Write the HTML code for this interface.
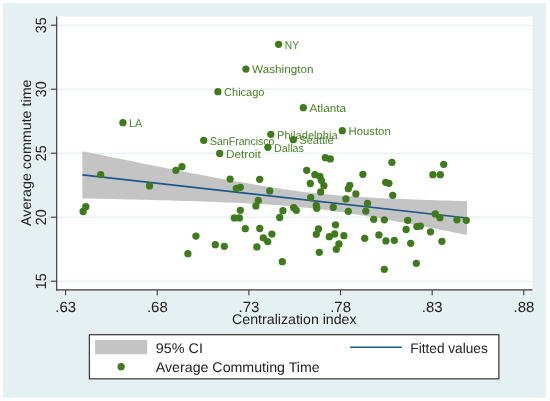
<!DOCTYPE html>
<html><head><meta charset="utf-8"><title>Average commute time vs Centralization index</title>
<style>html,body{margin:0;padding:0;background:#fff}svg{display:block}</style></head>
<body>
<svg width="550" height="401" viewBox="0 0 550 401" style="display:block" text-rendering="geometricPrecision" font-family='"Liberation Sans", sans-serif'>
<rect x="0" y="0" width="550" height="401" fill="#ffffff"/>
<rect x="3" y="3" width="543" height="394.5" fill="#e4f0f2"/>
<rect x="56.7" y="16.5" width="475.7" height="273.45" fill="#ffffff"/>
<line x1="56.7" x2="532.4" y1="281.20" y2="281.20" stroke="#dbedf0" stroke-width="1"/>
<line x1="56.7" x2="532.4" y1="217.20" y2="217.20" stroke="#dbedf0" stroke-width="1"/>
<line x1="56.7" x2="532.4" y1="153.20" y2="153.20" stroke="#dbedf0" stroke-width="1"/>
<line x1="56.7" x2="532.4" y1="89.20" y2="89.20" stroke="#dbedf0" stroke-width="1"/>
<line x1="56.7" x2="532.4" y1="25.20" y2="25.20" stroke="#dbedf0" stroke-width="1"/>
<polygon fill="#c4c4c4" points="82.4,151.2 88.8,152.5 95.2,153.8 101.6,155.1 108.0,156.4 114.5,157.7 120.9,159.0 127.3,160.3 133.7,161.6 140.1,162.9 146.5,164.2 152.9,165.4 159.3,166.7 165.7,168.0 172.1,169.2 178.6,170.5 185.0,171.7 191.4,173.0 197.8,174.2 204.2,175.4 210.6,176.7 217.0,177.9 223.4,179.0 229.8,180.2 236.2,181.4 242.7,182.5 249.1,183.6 255.5,184.7 261.9,185.8 268.3,186.8 274.7,187.8 281.1,188.8 287.5,189.7 293.9,190.6 300.3,191.4 306.8,192.2 313.2,192.9 319.6,193.6 326.0,194.2 332.4,194.8 338.8,195.4 345.2,195.9 351.6,196.3 358.0,196.8 364.4,197.2 370.9,197.5 377.3,197.9 383.7,198.2 390.1,198.5 396.5,198.8 402.9,199.0 409.3,199.3 415.7,199.5 422.1,199.7 428.5,200.0 435.0,200.2 441.4,200.4 447.8,200.5 454.2,200.7 460.6,200.9 467.0,201.1 467.0,234.9 460.6,233.7 454.2,232.4 447.8,231.1 441.4,229.9 435.0,228.6 428.5,227.4 422.1,226.2 415.7,225.0 409.3,223.8 402.9,222.6 396.5,221.4 390.1,220.2 383.7,219.1 377.3,218.0 370.9,216.9 364.4,215.8 358.0,214.7 351.6,213.7 345.2,212.8 338.8,211.8 332.4,210.9 326.0,210.1 319.6,209.3 313.2,208.5 306.8,207.8 300.3,207.2 293.9,206.6 287.5,206.0 281.1,205.5 274.7,205.0 268.3,204.6 261.9,204.1 255.5,203.8 249.1,203.4 242.7,203.1 236.2,202.8 229.8,202.5 223.4,202.2 217.0,202.0 210.6,201.7 204.2,201.5 197.8,201.3 191.4,201.1 185.0,200.9 178.6,200.7 172.1,200.5 165.7,200.3 159.3,200.2 152.9,200.0 146.5,199.8 140.1,199.7 133.7,199.5 127.3,199.4 120.9,199.2 114.5,199.1 108.0,198.9 101.6,198.8 95.2,198.7 88.8,198.5 82.4,198.4"/>
<line x1="82.4" y1="174.8" x2="467.0" y2="218.0" stroke="#1c588c" stroke-width="1.7"/>
<g fill="#3f7a1d">
<circle cx="83.1" cy="211.5" r="3.65"/>
<circle cx="85.8" cy="206.7" r="3.65"/>
<circle cx="100.7" cy="174.6" r="3.65"/>
<circle cx="149.5" cy="185.9" r="3.65"/>
<circle cx="175.9" cy="170.3" r="3.65"/>
<circle cx="181.9" cy="166.7" r="3.65"/>
<circle cx="230.1" cy="179.1" r="3.65"/>
<circle cx="259.7" cy="179.3" r="3.65"/>
<circle cx="236.3" cy="188.3" r="3.65"/>
<circle cx="240.3" cy="187.3" r="3.65"/>
<circle cx="269.7" cy="190.9" r="3.65"/>
<circle cx="258.3" cy="200.3" r="3.65"/>
<circle cx="255.9" cy="205.9" r="3.65"/>
<circle cx="240.3" cy="210.3" r="3.65"/>
<circle cx="234.3" cy="217.9" r="3.65"/>
<circle cx="239.3" cy="217.9" r="3.65"/>
<circle cx="245.3" cy="228.7" r="3.65"/>
<circle cx="259.8" cy="228.5" r="3.65"/>
<circle cx="195.9" cy="236.1" r="3.65"/>
<circle cx="187.9" cy="253.7" r="3.65"/>
<circle cx="215.3" cy="244.7" r="3.65"/>
<circle cx="224.3" cy="246.3" r="3.65"/>
<circle cx="263.3" cy="237.8" r="3.65"/>
<circle cx="267.7" cy="241.6" r="3.65"/>
<circle cx="271.9" cy="234.1" r="3.65"/>
<circle cx="256.9" cy="246.9" r="3.65"/>
<circle cx="325.3" cy="157.7" r="3.65"/>
<circle cx="330.3" cy="158.9" r="3.65"/>
<circle cx="306.7" cy="170.3" r="3.65"/>
<circle cx="314.9" cy="174.7" r="3.65"/>
<circle cx="319.9" cy="176.3" r="3.65"/>
<circle cx="321.3" cy="180.3" r="3.65"/>
<circle cx="310.3" cy="183.5" r="3.65"/>
<circle cx="323.9" cy="185.7" r="3.65"/>
<circle cx="320.7" cy="191.9" r="3.65"/>
<circle cx="310.7" cy="197.7" r="3.65"/>
<circle cx="362.9" cy="174.3" r="3.65"/>
<circle cx="349.7" cy="185.3" r="3.65"/>
<circle cx="348.3" cy="188.7" r="3.65"/>
<circle cx="355.9" cy="193.9" r="3.65"/>
<circle cx="345.9" cy="198.9" r="3.65"/>
<circle cx="367.5" cy="203.3" r="3.65"/>
<circle cx="316.3" cy="205.3" r="3.65"/>
<circle cx="316.7" cy="208.3" r="3.65"/>
<circle cx="333.3" cy="207.3" r="3.65"/>
<circle cx="348.3" cy="211.3" r="3.65"/>
<circle cx="365.8" cy="211.1" r="3.65"/>
<circle cx="293.7" cy="207.7" r="3.65"/>
<circle cx="296.3" cy="210.3" r="3.65"/>
<circle cx="282.9" cy="210.7" r="3.65"/>
<circle cx="279.7" cy="217.5" r="3.65"/>
<circle cx="318.5" cy="229.0" r="3.65"/>
<circle cx="335.5" cy="224.8" r="3.65"/>
<circle cx="282.3" cy="261.7" r="3.65"/>
<circle cx="316.3" cy="234.3" r="3.65"/>
<circle cx="334.7" cy="233.9" r="3.65"/>
<circle cx="329.3" cy="236.7" r="3.65"/>
<circle cx="343.9" cy="235.7" r="3.65"/>
<circle cx="338.9" cy="243.9" r="3.65"/>
<circle cx="336.3" cy="249.3" r="3.65"/>
<circle cx="319.3" cy="252.3" r="3.65"/>
<circle cx="364.7" cy="238.3" r="3.65"/>
<circle cx="391.9" cy="162.3" r="3.65"/>
<circle cx="385.7" cy="182.3" r="3.65"/>
<circle cx="388.9" cy="183.3" r="3.65"/>
<circle cx="392.7" cy="195.3" r="3.65"/>
<circle cx="373.7" cy="219.3" r="3.65"/>
<circle cx="384.3" cy="219.8" r="3.65"/>
<circle cx="407.7" cy="220.3" r="3.65"/>
<circle cx="406.1" cy="229.5" r="3.65"/>
<circle cx="416.9" cy="226.6" r="3.65"/>
<circle cx="420.3" cy="226.1" r="3.65"/>
<circle cx="430.5" cy="231.8" r="3.65"/>
<circle cx="443.7" cy="164.3" r="3.65"/>
<circle cx="432.9" cy="174.7" r="3.65"/>
<circle cx="440.3" cy="174.7" r="3.65"/>
<circle cx="435.3" cy="213.9" r="3.65"/>
<circle cx="439.9" cy="217.7" r="3.65"/>
<circle cx="456.9" cy="219.8" r="3.65"/>
<circle cx="466.3" cy="220.3" r="3.65"/>
<circle cx="378.9" cy="234.9" r="3.65"/>
<circle cx="385.9" cy="240.9" r="3.65"/>
<circle cx="394.3" cy="240.3" r="3.65"/>
<circle cx="410.7" cy="243.3" r="3.65"/>
<circle cx="441.9" cy="241.3" r="3.65"/>
<circle cx="416.3" cy="263.3" r="3.65"/>
<circle cx="384.3" cy="269.3" r="3.65"/>
<circle cx="278.6" cy="44.3" r="3.65"/>
<circle cx="245.9" cy="69.1" r="3.65"/>
<circle cx="217.9" cy="91.7" r="3.65"/>
<circle cx="303.3" cy="107.7" r="3.65"/>
<circle cx="122.9" cy="122.7" r="3.65"/>
<circle cx="342.3" cy="130.7" r="3.65"/>
<circle cx="270.8" cy="134.3" r="3.65"/>
<circle cx="293.3" cy="139.7" r="3.65"/>
<circle cx="203.7" cy="140.3" r="3.65"/>
<circle cx="267.9" cy="147.3" r="3.65"/>
<circle cx="219.7" cy="153.5" r="3.65"/>
</g>
<g fill="#457f24" font-size="11.3">
<text x="284.8" y="48.6" textLength="14.2" lengthAdjust="spacingAndGlyphs">NY</text>
<text x="252.1" y="73.4" textLength="61.4" lengthAdjust="spacingAndGlyphs">Washington</text>
<text x="224.1" y="96.0" textLength="40.4" lengthAdjust="spacingAndGlyphs">Chicago</text>
<text x="309.5" y="112.0" textLength="36.4" lengthAdjust="spacingAndGlyphs">Atlanta</text>
<text x="129.1" y="127.0" textLength="13.2" lengthAdjust="spacingAndGlyphs">LA</text>
<text x="348.5" y="135.0" textLength="42.2" lengthAdjust="spacingAndGlyphs">Houston</text>
<text x="277.0" y="138.6" textLength="60.6" lengthAdjust="spacingAndGlyphs">Philadelphia</text>
<text x="299.5" y="144.0" textLength="34" lengthAdjust="spacingAndGlyphs">Seattle</text>
<text x="209.9" y="144.6" textLength="64.6" lengthAdjust="spacingAndGlyphs">SanFrancisco</text>
<text x="274.1" y="151.6" textLength="29.8" lengthAdjust="spacingAndGlyphs">Dallas</text>
<text x="225.9" y="157.8" textLength="34.8" lengthAdjust="spacingAndGlyphs">Detroit</text>
</g>
<line x1="56.7" x2="56.7" y1="16.5" y2="290.55" stroke="#3a3a3a" stroke-width="1.2"/>
<line x1="56.1" x2="532.4" y1="289.95" y2="289.95" stroke="#3a3a3a" stroke-width="1.2"/>
<line x1="51" x2="56.7" y1="281.20" y2="281.20" stroke="#3a3a3a" stroke-width="1.1"/>
<text transform="translate(46.1,281.35) rotate(-90)" text-anchor="middle" font-size="14.8" fill="#222" textLength="15.9" lengthAdjust="spacingAndGlyphs">15</text>
<line x1="51" x2="56.7" y1="217.20" y2="217.20" stroke="#3a3a3a" stroke-width="1.1"/>
<text transform="translate(46.1,217.35) rotate(-90)" text-anchor="middle" font-size="14.8" fill="#222" textLength="15.9" lengthAdjust="spacingAndGlyphs">20</text>
<line x1="51" x2="56.7" y1="153.20" y2="153.20" stroke="#3a3a3a" stroke-width="1.1"/>
<text transform="translate(46.1,153.35) rotate(-90)" text-anchor="middle" font-size="14.8" fill="#222" textLength="15.9" lengthAdjust="spacingAndGlyphs">25</text>
<line x1="51" x2="56.7" y1="89.20" y2="89.20" stroke="#3a3a3a" stroke-width="1.1"/>
<text transform="translate(46.1,89.35) rotate(-90)" text-anchor="middle" font-size="14.8" fill="#222" textLength="15.9" lengthAdjust="spacingAndGlyphs">30</text>
<line x1="51" x2="56.7" y1="25.20" y2="25.20" stroke="#3a3a3a" stroke-width="1.1"/>
<text transform="translate(46.1,25.35) rotate(-90)" text-anchor="middle" font-size="14.8" fill="#222" textLength="15.9" lengthAdjust="spacingAndGlyphs">35</text>
<line x1="65.60" x2="65.60" y1="289.95" y2="295.3" stroke="#3a3a3a" stroke-width="1.1"/>
<text x="65.70" y="311.6" text-anchor="middle" font-size="14.8" fill="#222" textLength="20.8" lengthAdjust="spacingAndGlyphs">.63</text>
<line x1="157.24" x2="157.24" y1="289.95" y2="295.3" stroke="#3a3a3a" stroke-width="1.1"/>
<text x="157.34" y="311.6" text-anchor="middle" font-size="14.8" fill="#222" textLength="20.8" lengthAdjust="spacingAndGlyphs">.68</text>
<line x1="248.88" x2="248.88" y1="289.95" y2="295.3" stroke="#3a3a3a" stroke-width="1.1"/>
<text x="248.98" y="311.6" text-anchor="middle" font-size="14.8" fill="#222" textLength="20.8" lengthAdjust="spacingAndGlyphs">.73</text>
<line x1="340.52" x2="340.52" y1="289.95" y2="295.3" stroke="#3a3a3a" stroke-width="1.1"/>
<text x="340.62" y="311.6" text-anchor="middle" font-size="14.8" fill="#222" textLength="20.8" lengthAdjust="spacingAndGlyphs">.78</text>
<line x1="432.16" x2="432.16" y1="289.95" y2="295.3" stroke="#3a3a3a" stroke-width="1.1"/>
<text x="432.26" y="311.6" text-anchor="middle" font-size="14.8" fill="#222" textLength="20.8" lengthAdjust="spacingAndGlyphs">.83</text>
<line x1="523.80" x2="523.80" y1="289.95" y2="295.3" stroke="#3a3a3a" stroke-width="1.1"/>
<text x="523.90" y="311.6" text-anchor="middle" font-size="14.8" fill="#222" textLength="20.8" lengthAdjust="spacingAndGlyphs">.88</text>
<text x="232.1" y="324.3" font-size="14" fill="#222" textLength="124.5" lengthAdjust="spacingAndGlyphs">Centralization index</text>
<text transform="translate(31.4,226) rotate(-90)" font-size="14" fill="#222" textLength="146.5" lengthAdjust="spacingAndGlyphs">Average commute time</text>
<rect x="89.4" y="334.7" width="409.5" height="44.1" fill="#ffffff" stroke="#3c3c3c" stroke-width="1.25"/>
<rect x="95.05" y="339.9" width="52.15" height="14.3" fill="#c4c4c4"/>
<text x="155.8" y="352.9" font-size="14" fill="#222" textLength="47.1" lengthAdjust="spacingAndGlyphs">95% CI</text>
<circle cx="121.1" cy="366.7" r="3.65" fill="#3f7a1d"/>
<text x="155.8" y="372.4" font-size="14" fill="#222" textLength="163.9" lengthAdjust="spacingAndGlyphs">Average Commuting Time</text>
<line x1="350.1" x2="401.8" y1="347.2" y2="347.2" stroke="#1c588c" stroke-width="1.5"/>
<text x="410.3" y="352.9" font-size="14" fill="#222" textLength="77.5" lengthAdjust="spacingAndGlyphs">Fitted values</text>
</svg>
</body></html>
